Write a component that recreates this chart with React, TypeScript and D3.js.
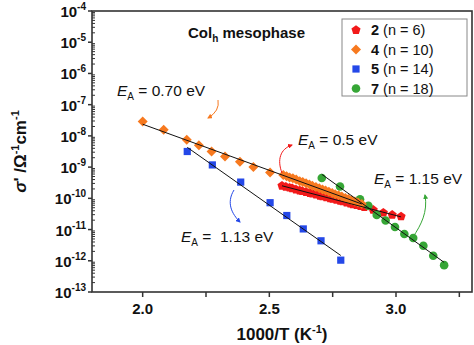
import React from "react";
import * as d3 from "d3";

// ---- data (x = 1000/T, y = log10 sigma) ----
const series2X = [2.55, 2.565, 2.58, 2.59, 2.605, 2.62, 2.63, 2.645, 2.66, 2.67, 2.685, 2.70, 2.71, 2.725, 2.74, 2.75, 2.765, 2.78, 2.79, 2.805, 2.82, 2.83, 2.845, 2.86, 2.875, 2.91, 2.95, 2.985, 3.02];
const series2Y = [-9.60, -9.63, -9.66, -9.68, -9.72, -9.75, -9.77, -9.80, -9.83, -9.85, -9.88, -9.92, -9.94, -9.97, -10.00, -10.02, -10.05, -10.08, -10.10, -10.14, -10.17, -10.19, -10.22, -10.25, -10.28, -10.37, -10.46, -10.53, -10.58];

const series4X = [2.0, 2.083, 2.174, 2.222, 2.272, 2.325, 2.384, 2.437, 2.503, 2.555, 2.568, 2.58, 2.593, 2.606, 2.62, 2.632, 2.645, 2.658, 2.67, 2.684, 2.697, 2.71, 2.722, 2.735, 2.748, 2.76, 2.773, 2.786, 2.80, 2.812, 2.825, 2.838, 2.85, 2.865];
const series4Y = [-7.54, -7.80, -8.12, -8.30, -8.50, -8.66, -8.83, -9.00, -9.17, -9.25, -9.29, -9.33, -9.36, -9.40, -9.45, -9.48, -9.52, -9.56, -9.60, -9.64, -9.68, -9.72, -9.75, -9.79, -9.83, -9.87, -9.90, -9.94, -9.99, -10.02, -10.06, -10.10, -10.13, -10.18];

const series5X = [2.176, 2.275, 2.387, 2.503, 2.569, 2.634, 2.704, 2.782];
const series5Y = [-8.50, -8.93, -9.48, -10.14, -10.55, -10.98, -11.36, -11.98];

const series7X = [2.707, 2.779, 2.858, 2.891, 2.924, 2.959, 2.996, 3.033, 3.068, 3.108, 3.147, 3.190];
const series7Y = [-9.35, -9.62, -10.03, -10.24, -10.53, -10.71, -10.92, -11.14, -11.27, -11.52, -11.84, -12.14];

const legendIds = ["2", "4", "5", "7"];
const legendN = ["(n = 6)", "(n = 10)", "(n = 14)", "(n = 18)"];
const xTicks = [2.0, 2.5, 3.0];
const xMinorTicks = [2.25, 2.75, 3.25];
const yExponents = [-4, -5, -6, -7, -8, -9, -10, -11, -12, -13];

const COLORS = { red: "#f21a1a", orange: "#f7791f", blue: "#2448e8", green: "#36a636" };
const FONT = "'Liberation Sans', Arial, Helvetica, sans-serif";

const W = 474, H = 345;
const L = 92, R = 472, T = 11, B = 292;

const x = d3.scaleLinear().domain([1.8, 3.3]).range([L, R]);
const y = d3.scaleLog().domain([1e-13, 1e-4]).range([B, T]);

function fit(xs: number[], ys: number[]) {
  const mx = d3.mean(xs)!, my = d3.mean(ys)!;
  let num = 0, den = 0;
  xs.forEach((v, i) => { num += (v - mx) * (ys[i] - my); den += (v - mx) ** 2; });
  const b = num / den, a = my - b * mx;
  const x0 = d3.min(xs)!, x1 = d3.max(xs)!;
  return [[x0, a + b * x0], [x1, a + b * x1]];
}

function pentagon(r: number) {
  const pts = d3.range(5).map(i => {
    const a = -Math.PI / 2 + (i * 2 * Math.PI) / 5;
    return [r * Math.cos(a), r * Math.sin(a)];
  });
  return "M" + pts.map(p => p.join(",")).join("L") + "Z";
}
function diamond(r: number) {
  return `M0,${-r}L${r},0L0,${r}L${-r},0Z`;
}

function Marker({ kind, cx, cy }: { kind: string; cx: number; cy: number }) {
  if (kind === "2") return <path d={pentagon(4.8)} transform={`translate(${cx},${cy})`} fill={COLORS.red} />;
  if (kind === "4") return <path d={diamond(5)} transform={`translate(${cx},${cy})`} fill={COLORS.orange} />;
  if (kind === "5") return <rect x={cx - 3.6} y={cy - 3.6} width={7.2} height={7.2} fill={COLORS.blue} />;
  return <circle cx={cx} cy={cy} r={4.3} fill={COLORS.green} />;
}

const seriesList = [
  { id: "2", xs: series2X, ys: series2Y },
  { id: "5", xs: series5X, ys: series5Y },
  { id: "7", xs: series7X, ys: series7Y },
  { id: "4", xs: series4X, ys: series4Y },
];

function EaLabel({ xPos, yPos, value }: { xPos: number; yPos: number; value: string }) {
  return (
    <text x={xPos} y={yPos} fontFamily={FONT} fontSize={15.5} fill="#111" style={{ whiteSpace: "pre" }}>
      <tspan fontStyle="italic">E</tspan>
      <tspan fontSize={10} dy={4}>A</tspan>
      <tspan dy={-4}>{" = " + value}</tspan>
    </text>
  );
}

export default function App() {
  const minorY: number[] = [];
  for (let e = -13; e < -4; e++) for (let m = 2; m <= 9; m++) minorY.push(m * Math.pow(10, e));

  return (
    <svg width={W} height={H} style={{ position: "absolute", left: 0, top: 0, background: "#fff" }}>
      <defs>
        {Object.entries(COLORS).map(([k, c]) => (
          <marker key={k} id={`ah-${k}`} viewBox="0 0 10 10" refX="8" refY="5" markerWidth="5" markerHeight="5" orient="auto">
            <path d="M0,0L10,5L0,10Z" fill={c} />
          </marker>
        ))}
      </defs>
      <rect x={0} y={0} width={W} height={H} fill="#fff" />

      {/* markers */}
      {seriesList.map(s => (
        <g key={s.id}>
          {s.xs.map((v, i) => (
            <Marker key={i} kind={s.id} cx={x(v)} cy={y(Math.pow(10, s.ys[i]))} />
          ))}
        </g>
      ))}

      {/* fit lines */}
      {seriesList.map(s => {
        const [[x0, y0], [x1, y1]] = fit(s.xs, s.ys);
        return <line key={s.id} x1={x(x0)} y1={y(Math.pow(10, y0))} x2={x(x1)} y2={y(Math.pow(10, y1))} stroke="#111" strokeWidth={1} />;
      })}

      {/* frame */}
      <rect x={L} y={T} width={R - L} height={B - T} fill="none" stroke="#333" strokeWidth={1.6} />

      {/* x ticks */}
      {xTicks.concat(xMinorTicks).map(t => (
        <line key={t} x1={x(t)} x2={x(t)} y1={B} y2={B + 5} stroke="#333" strokeWidth={1.5} />
      ))}
      {xTicks.map(t => (
        <text key={t} x={x(t)} y={B + 22} textAnchor="middle" fontFamily={FONT} fontWeight="bold" fontSize={15} fill="#111">
          {t.toFixed(1)}
        </text>
      ))}

      {/* y ticks */}
      {yExponents.map(e => (
        <line key={e} x1={L - 4} x2={L} y1={y(Math.pow(10, e))} y2={y(Math.pow(10, e))} stroke="#333" strokeWidth={1.5} />
      ))}
      {minorY.map((v, i) => (
        <line key={i} x1={L} x2={L + 3} y1={y(v)} y2={y(v)} stroke="#333" strokeWidth={1} />
      ))}
      {yExponents.map(e => (
        <text key={e} x={86} y={y(Math.pow(10, e)) + 6} textAnchor="end" fontFamily={FONT} fontWeight="bold" fontSize={15} fill="#111">
          10<tspan fontSize={10} dy={-7}>{String(e)}</tspan>
        </text>
      ))}

      {/* axis titles */}
      <text x={(L + R) / 2} y={340} textAnchor="middle" fontFamily={FONT} fontWeight="bold" fontSize={17} fill="#111">
        1000/T (K<tspan fontSize={11} dy={-7}>-1</tspan><tspan dy={7}>)</tspan>
      </text>
      <text transform={`translate(26,${(T + B) / 2}) rotate(-90)`} textAnchor="middle" fontFamily={FONT} fontWeight="bold" fontSize={17} fill="#111">
        <tspan fontStyle="italic">σ</tspan><tspan>' /Ω</tspan><tspan fontSize={11} dy={-7}>-1</tspan><tspan dy={7}>cm</tspan><tspan fontSize={11} dy={-7}>-1</tspan>
      </text>

      {/* title */}
      <text x={305} y={38} textAnchor="end" fontFamily={FONT} fontWeight="bold" fontSize={15} fill="#111">
        Col<tspan fontSize={10} dy={4}>h</tspan><tspan dy={-4}> mesophase</tspan>
      </text>

      {/* legend */}
      <rect x={342} y={19} width={125} height={77} fill="#fff" stroke="#888" strokeWidth={1} />
      {legendIds.map((id, i) => {
        const cy = 30 + i * 19.5;
        return (
          <g key={id}>
            <Marker kind={id} cx={356} cy={cy} />
            <text x={371} y={cy + 5} fontFamily={FONT} fontSize={14.5} fill="#111">
              <tspan fontWeight="bold">{id}</tspan> {legendN[i]}
            </text>
          </g>
        );
      })}

      {/* annotations */}
      <EaLabel xPos={117} yPos={96} value="0.70 eV" />
      <EaLabel xPos={298} yPos={145} value="0.5 eV" />
      <EaLabel xPos={374} yPos={184} value="1.15 eV" />
      <EaLabel xPos={181} yPos={242} value=" 1.13 eV" />

      <path d="M218,100 Q220,111 208,118" fill="none" stroke={COLORS.orange} strokeWidth={1} markerEnd="url(#ah-orange)" />
      <path d="M282,173 C277,160 280,149 292,145" fill="none" stroke={COLORS.red} strokeWidth={1} markerEnd="url(#ah-red)" />
      <path d="M413,237 C421,225 428,212 425,195" fill="none" stroke={COLORS.green} strokeWidth={1} markerEnd="url(#ah-green)" />
      <path d="M234,190 C226,203 232,214 240,222" fill="none" stroke={COLORS.blue} strokeWidth={1} markerEnd="url(#ah-blue)" />
    </svg>
  );
}
